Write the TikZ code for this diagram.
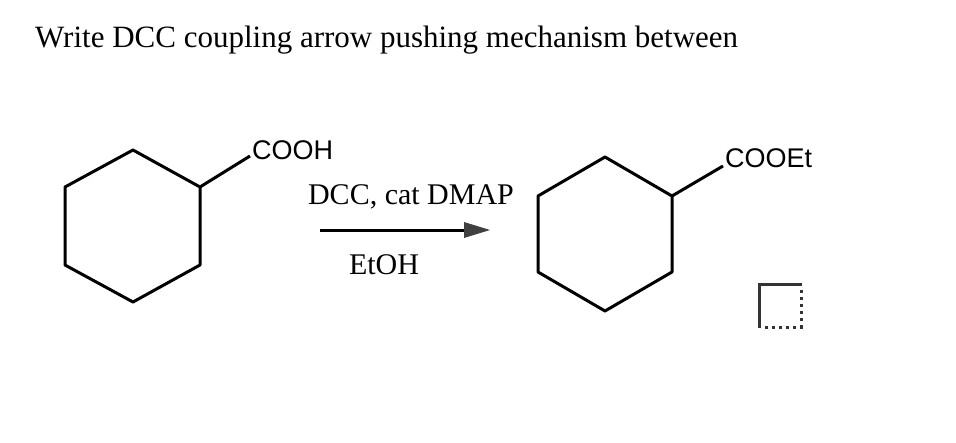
\documentclass[tikz,border=0pt]{standalone}
\usepackage{fontspec}
\setmainfont{Liberation Serif}
\newfontfamily\lsans{Liberation Sans}
\begin{document}
\begin{tikzpicture}[x=1pt,y=-1pt,bond/.style={line width=3pt,line join=round},
 lab/.style={font=\lsans\fontsize{27}{27}\selectfont,anchor=west,inner sep=0pt}]
\useasboundingbox (0,0) rectangle (956,442);
\node[anchor=west,inner sep=0pt,font=\fontsize{31}{31}\selectfont] (title) at (35,40) {Write DCC coupling arrow pushing mechanism between};
\coordinate (a1) at (133,150); \coordinate (a2) at (200,187); \coordinate (a3) at (200,265);
\coordinate (a4) at (133,302); \coordinate (a5) at (65,265); \coordinate (a6) at (65,187);
\coordinate (a7) at (250,156);
\draw[bond] (a1)--(a2)--(a3)--(a4)--(a5)--(a6)--cycle;
\draw[bond] (a2)--(a7);
\node[lab] (cooh) at (252,150) {COOH};
\coordinate (b1) at (605,157); \coordinate (b2) at (672,196); \coordinate (b3) at (672,272);
\coordinate (b4) at (605,311); \coordinate (b5) at (538,272); \coordinate (b6) at (538,196);
\coordinate (b7) at (723,166);
\draw[bond] (b1)--(b2)--(b3)--(b4)--(b5)--(b6)--cycle;
\draw[bond] (b2)--(b7);
\node[lab] (cooet) at (725,158) {COOEt};
\coordinate (s) at (320,230); \coordinate (e) at (490,230);
\draw[line width=3pt] (s)--(472,230);
\fill[black!75] (490,230)--(464,222)--(464,238)--cycle;
\node[font=\fontsize{30}{30}\selectfont,inner sep=0pt] (r1) at (411,197) {DCC, cat DMAP};
\node[font=\fontsize{30}{30}\selectfont,inner sep=0pt] (r2) at (384,265) {EtOH};
\draw[line width=3pt,black!80] (759,328)--(759,284)--(802,284);
\draw[line width=3pt,dash pattern=on 3pt off 4pt,black!80] (801,290)--(801,327)--(764,327);
\end{tikzpicture}
\end{document}
